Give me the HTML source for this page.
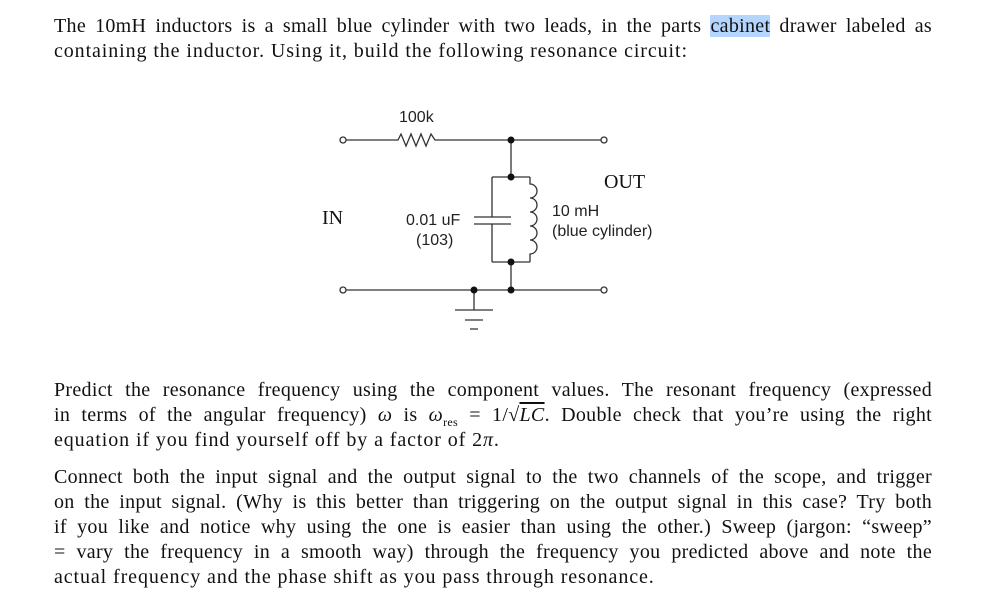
<!DOCTYPE html>
<html><head><meta charset="utf-8"><style>
body{margin:0;width:1000px;height:616px;background:#fff;overflow:hidden;position:relative;font-family:"Liberation Serif",serif;color:#111}
.l{position:absolute;left:54px;width:878px;font-size:20px;letter-spacing:0.9px;line-height:25px;white-space:nowrap}
.j{text-align:justify;text-align-last:justify;white-space:normal;letter-spacing:0.3px}
.hl{background:#b4d5fe}
svg{position:absolute;left:0;top:0}
.s{font-family:"Liberation Sans",sans-serif;font-size:16px;fill:#222}
</style></head><body>
<div class="l j" style="top:14px">The 10mH inductors is a small blue cylinder with two leads, in the parts <span class="hl">cabinet</span> drawer labeled as</div>
<div class="l" style="top:39px">containing the inductor. Using it, build the following resonance circuit:</div>

<svg width="1000" height="616" viewBox="0 0 1000 616">
<g stroke="#333" stroke-width="1.3" fill="none">
<circle cx="343" cy="140" r="3" fill="#fff"/>
<circle cx="604" cy="140" r="3" fill="#fff"/>
<circle cx="343" cy="290" r="3" fill="#fff"/>
<circle cx="604" cy="290" r="3" fill="#fff"/>
<path d="M346 140H398l3-6 5 12 5-12 5 12 5-12 5 12 5-12 4 6H601"/>
<path d="M346 290H601"/>
<path d="M511 140V177M511 262V290"/>
<path d="M492 177H530M492 262H530M492 177V217M492 224V262"/>
<path d="M474 217H511M474 224H511"/>
<path d="M530 177V184 a6 6 0 1 1 0 14 a6 6 0 1 1 0 14 a6 6 0 1 1 0 14 a6 6 0 1 1 0 14 a6 6 0 1 1 0 14 V262"/>
<path d="M474 290V310M455 310H493M465 320H483M470 329H478"/>
</g>
<g fill="#111"><circle cx="511" cy="140" r="3.5"/><circle cx="511" cy="177" r="3.5"/><circle cx="511" cy="262" r="3.5"/><circle cx="511" cy="290" r="3.5"/><circle cx="474" cy="290" r="3.5"/></g>
<text class="s" x="399" y="122">100k</text>
<text class="s" x="406" y="225">0.01 uF</text>
<text class="s" x="416" y="245">(103)</text>
<text class="s" x="552" y="216">10 mH</text>
<text class="s" x="552" y="236">(blue cylinder)</text>
<text x="604" y="188" font-family="Liberation Serif" font-size="20" fill="#111">OUT</text>
<text x="322" y="224" font-family="Liberation Serif" font-size="20" fill="#111">IN</text>
</svg>

<div class="l j" style="top:378px">Predict the resonance frequency using the component values. The resonant frequency (expressed</div>
<div class="l j" style="top:403px">in terms of the angular frequency) <i>ω</i> is <i>ω</i><sub style="font-size:12px;line-height:0">res</sub> = 1/√<span style="text-decoration:overline"><i>LC</i></span>. Double check that you’re using the right</div>
<div class="l" style="top:428px">equation if you find yourself off by a factor of 2<i>π</i>.</div>
<div class="l j" style="top:465px">Connect both the input signal and the output signal to the two channels of the scope, and trigger</div>
<div class="l j" style="top:490px">on the input signal. (Why is this better than triggering on the output signal in this case? Try both</div>
<div class="l j" style="top:515px">if you like and notice why using the one is easier than using the other.) Sweep (jargon: “sweep”</div>
<div class="l j" style="top:540px">= vary the frequency in a smooth way) through the frequency you predicted above and note the</div>
<div class="l" style="top:565px">actual frequency and the phase shift as you pass through resonance.</div>
</body></html>
